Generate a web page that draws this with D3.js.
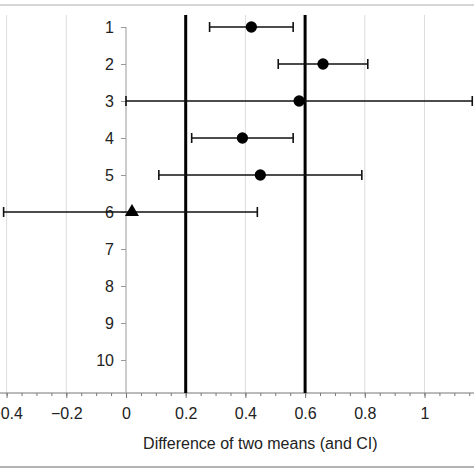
<!DOCTYPE html>
<meta charset="utf-8" />
<script src="https://d3js.org/d3.v7.min.js"></script>
<style>body{margin:0;background:#fff;} text{font-family:Arial,"Liberation Sans",sans-serif;}</style>
<div id="chart"></div>
<script>
  // rows and interval estimates
  const rows = [1, 2, 3, 4, 5, 6, 7, 8, 9, 10];
  const means = [0.42, 0.66, 0.58, 0.39, 0.45, 0.02];
  const lows = [0.28, 0.51, 0.0, 0.22, 0.11, -0.41];
  const highs = [0.56, 0.81, 1.16, 0.56, 0.79, 0.44];
  const shapes = ["circle", "circle", "circle", "circle", "circle", "triangle"];
  const majorTicks = [-0.4, -0.2, 0, 0.2, 0.4, 0.6, 0.8, 1];
  const refLines = [0.2, 0.6];

  const W = 474, H = 474;
  const svg = d3.select("#chart").append("svg").attr("width", W).attr("height", H);

  const x = d3.scaleLinear().domain([0, 1]).range([126, 424.5]);
  const y = d3.scaleLinear().domain([1, 10]).range([27, 360]);
  const axisY = 393;

  // frame lines
  svg.append("line").attr("x1", 0).attr("x2", W).attr("y1", 5).attr("y2", 5).attr("stroke", "#c8c8c8").attr("stroke-width", 1.5);
  svg.append("line").attr("x1", 0).attr("x2", W).attr("y1", 467).attr("y2", 467).attr("stroke", "#999").attr("stroke-width", 1.5);

  // gridlines
  svg.selectAll(".grid").data(majorTicks.filter(d => d !== 0 && !refLines.includes(d)).concat([1.2]))
    .join("line").attr("x1", d => x(d)).attr("x2", d => x(d))
    .attr("y1", 15).attr("y2", axisY).attr("stroke", "#dcdcdc");

  // x axis with minor ticks
  const minor = d3.range(-0.45, 1.2, 0.05);
  svg.append("g").attr("transform", `translate(0,${axisY})`)
    .call(d3.axisBottom(x).tickValues(minor).tickSize(3).tickFormat(""))
    .call(g => g.select(".domain").attr("stroke", "#777").attr("d", `M0,0H${W}`))
    .call(g => g.selectAll("line").attr("stroke", "#777"));
  svg.append("g").attr("transform", `translate(0,${axisY})`)
    .call(d3.axisBottom(x).tickValues(majorTicks).tickSize(5).tickFormat(d => d3.format("")(+d.toFixed(1))))
    .call(g => g.select(".domain").remove())
    .call(g => g.selectAll("line").attr("stroke", "#777"))
    .call(g => g.selectAll("text").attr("font-size", 16).attr("fill", "#222").attr("dy", "1.1em"));

  // y axis
  svg.append("g").attr("transform", `translate(${x(0)},0)`)
    .call(d3.axisLeft(y).tickValues(rows).tickSize(5).tickPadding(7))
    .call(g => g.select(".domain").attr("stroke", "#999").attr("d", `M0,${y(1)}V${axisY}`))
    .call(g => g.selectAll("line").attr("stroke", "#999"))
    .call(g => g.selectAll("text").attr("font-size", 16).attr("fill", "#222"));

  // reference lines
  svg.selectAll(".ref").data(refLines).join("line")
    .attr("x1", d => x(d)).attr("x2", d => x(d)).attr("y1", 15).attr("y2", axisY)
    .attr("stroke", "#000").attr("stroke-width", 3);

  // error bars
  const est = means.map((m, i) => ({ row: rows[i], m, lo: lows[i], hi: highs[i], shape: shapes[i] }));
  const g = svg.append("g").attr("stroke", "#111").attr("stroke-width", 1.6);
  g.selectAll(".bar").data(est).join("line")
    .attr("x1", d => x(d.lo)).attr("x2", d => x(d.hi)).attr("y1", d => y(d.row)).attr("y2", d => y(d.row));
  g.selectAll(".capl").data(est).join("line")
    .attr("x1", d => x(d.lo)).attr("x2", d => x(d.lo)).attr("y1", d => y(d.row) - 5).attr("y2", d => y(d.row) + 5);
  g.selectAll(".caph").data(est).join("line")
    .attr("x1", d => x(d.hi)).attr("x2", d => x(d.hi)).attr("y1", d => y(d.row) - 5).attr("y2", d => y(d.row) + 5);

  svg.selectAll(".pt").data(est).join("path")
    .attr("transform", d => `translate(${x(d.m)},${y(d.row)})`)
    .attr("d", d => d3.symbol(d.shape === "circle" ? d3.symbolCircle : d3.symbolTriangle, d.shape === "circle" ? 100 : 85)())
    .attr("fill", "#000");

  // axis title
  svg.append("text").attr("x", x(0.45)).attr("y", 449).attr("text-anchor", "middle")
    .attr("font-size", 16).attr("fill", "#222").text("Difference of two means (and CI)");
</script>
